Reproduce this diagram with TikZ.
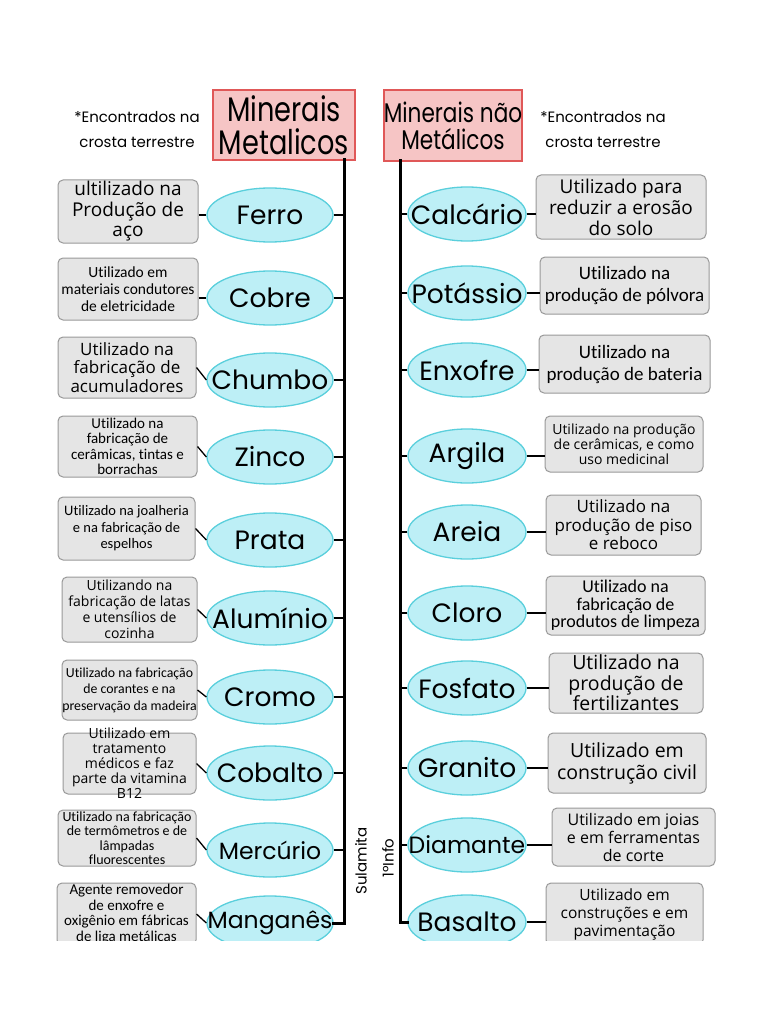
\documentclass[tikz,border=0pt]{standalone}
\usepackage{fontspec}
\setmainfont{Carlito}
\newfontfamily\ellfont{Poppins}
\newfontfamily\hdrfont[FakeStretch=0.8]{Poppins}
\newfontfamily\notefont{Poppins}
\newfontfamily\widefont{Open Sans}
\newfontfamily\narrowfont[Ligatures=NoCommon]{Carlito}
\usetikzlibrary{shapes.geometric}

\definecolor{ellfill}{HTML}{BDEFF6}
\definecolor{elldraw}{HTML}{5ACFDC}
\definecolor{boxfill}{HTML}{E5E5E5}
\definecolor{boxdraw}{HTML}{999999}
\definecolor{hdrfill}{HTML}{F6C5C5}
\definecolor{hdrdraw}{HTML}{E05858}

\newcommand\fs[2]{\fontsize{#1}{#2}\selectfont}
\newcommand\el[1]{\makebox[0pt]{#1}}
\newcommand\boxtext[4]{\parbox[c][\dimexpr#2pt-2pt\relax][c]{#1pt}{\centering#3#4\par}}

\tikzset{
  ell/.style={ellipse, draw=elldraw, fill=ellfill, line width=1.3pt,
    minimum width=126pt, minimum height=54pt, inner sep=0pt, font=\ellfont\fs{26.5}{27}},
  rell/.style={ell, minimum width=118pt},
  small/.style={font=\ellfont\fs{23.5}{24}},
  infobox/.style 2 args={rectangle, draw=boxdraw, fill=boxfill, rounded corners=5pt,
    line width=1pt, inner xsep=0pt, inner ysep=1pt, minimum width=#1pt, minimum height=#2pt},
  hdr/.style={rectangle, draw=hdrdraw, fill=hdrfill, line width=1.5pt, inner sep=0pt, align=center},
  note/.style={font=\notefont\fs{15}{25}, align=center, inner sep=0pt},
  sig/.style={rotate=90, font=\notefont\fs{15}{15}, inner sep=0pt},
  trunk/.style={line width=3pt, line cap=rect},
  twig/.style={line width=2.5pt},
  leaf/.style={line width=1.3pt}
}

\begin{document}
\begin{tikzpicture}[x=1pt,y=-1pt]
\useasboundingbox (0,0) rectangle (768,1024);
\fill[white] (0,0) rectangle (768,1024);
\begin{scope}
\clip (0,0) rectangle (768,940);

% headers
\node[hdr, minimum width=142pt, minimum height=70pt, font=\hdrfont\fs{34}{33}] (h1) at (284,125)
  {Minerais\\Metalicos};
\node[hdr, minimum width=138pt, minimum height=71pt, font=\hdrfont\fs{27}{27}] (h2) at (453,125.5)
  {Minerais não\\Metálicos};
\node[note] (n1) at (137,130) {*Encontrados na\\crosta terrestre};
\node[note] (n2) at (603,130) {*Encontrados na\\crosta terrestre};

\coordinate (ltop) at (344,160);
\coordinate (rtop) at (400,161);

% left ellipses
\node[ell] (e1) at (270,215) {\el{Ferro}};
\node[ell] (e2) at (270,298) {\el{Cobre}};
\node[ell] (e3) at (270,380) {\el{Chumbo}};
\node[ell] (e4) at (270,457) {\el{Zinco}};
\node[ell] (e5) at (270,540) {\el{Prata}};
\node[ell] (e6) at (270,618) {\el{Alumínio}};
\node[ell] (e7) at (270,697) {\el{Cromo}};
\node[ell] (e8) at (270,773) {\el{Cobalto}};
\node[ell, small] (e9) at (270,850) {\el{Mercúrio}};
\node[ell, small] (e10) at (270,923) {\el{Manganês}};

% left boxes
\node[infobox={140}{63}] (b1) at (128,211.5) {\boxtext{140}{63}{\widefont\fs{19}{20.5}}{ultilizado na\\Produção de\\aço}};
\node[infobox={140}{62}] (b2) at (128,289) {\boxtext{140}{62}{\narrowfont\fs{15.5}{17}}{Utilizado em\\materiais condutores\\de eletricidade}};
\node[infobox={138}{61}] (b3) at (127,367.5) {\boxtext{138}{61}{\widefont\fs{17}{18.5}}{Utilizado na\\fabricação de\\acumuladores}};
\node[infobox={139}{61}] (b4) at (127.5,446.5) {\boxtext{139}{61}{\narrowfont\fs{15}{15.5}}{Utilizado na\\fabricação de\\cerâmicas, tintas e\\borrachas}};
\node[infobox={137}{63}] (b5) at (126.5,528.5) {\boxtext{137}{63}{\narrowfont\fs{14.5}{16.5}}{Utilizado na joalheria\\e na fabricação de\\espelhos}};
\node[infobox={135}{65}] (b6) at (129.5,609.5) {\boxtext{135}{65}{\widefont\fs{14}{16}}{Utilizando na\\fabricação de latas\\e utensílios de\\cozinha}};
\node[infobox={135}{60}] (b7) at (129.5,690) {\boxtext{135}{60}{\narrowfont\fs{13.8}{16.5}}{Utilizado na fabricação\\de corantes e na\\preservação da madeira}};
\node[infobox={133}{61}] (b8) at (129.5,763.5) {\boxtext{133}{61}{\widefont\fs{14}{15}}{Utilizado em\\tratamento\\médicos e faz\\parte da vitamina\\B12}};
\node[infobox={138}{56}] (b9) at (127,838) {\boxtext{138}{56}{\narrowfont\fs{14}{14.5}}{Utilizado na fabricação\\de termômetros e de\\lâmpadas\\fluorescentes}};
\node[infobox={139}{62}] (b10) at (126.5,914) {\boxtext{139}{62}{\narrowfont\fs{15}{15.5}}{Agente removedor\\de enxofre e\\oxigênio em fábricas\\de liga metálicas}};

% right ellipses
\node[rell] (f1) at (467,214) {\el{Calcário}};
\node[rell] (f2) at (467,293) {\el{Potássio}};
\node[rell] (f3) at (467,370) {\el{Enxofre}};
\node[rell] (f4) at (467,456) {\el{Argila}};
\node[rell] (f5) at (467,532) {\el{Areia}};
\node[rell] (f6) at (467,613) {\el{Cloro}};
\node[rell] (f7) at (467,688) {\el{Fosfato}};
\node[rell] (f8) at (467,768) {\el{Granito}};
\node[rell, small] (f9) at (467,845) {\el{Diamante}};
\node[rell] (f10) at (467,922) {\el{Basalto}};

% right boxes
\node[infobox={170}{64}] (c1) at (621,207) {\boxtext{170}{64}{\widefont\fs{19}{21}}{Utilizado para\\reduzir a erosão\\do solo}};
\node[infobox={169}{57}] (c2) at (624.5,285.5) {\boxtext{169}{57}{\narrowfont\fs{19}{22}}{Utilizado na\\produção de pólvora}};
\node[infobox={171}{58}] (c3) at (624.5,364) {\boxtext{171}{58}{\narrowfont\fs{19}{22}}{Utilizado na\\produção de bateria}};
\node[infobox={158}{56}] (c4) at (624,444) {\boxtext{158}{56}{\widefont\fs{14}{15}}{Utilizado na produção\\de cerâmicas, e como\\uso medicinal}};
\node[infobox={155}{60}] (c5) at (623.5,525) {\boxtext{155}{60}{\widefont\fs{17}{18.5}}{Utilizado na\\produção de piso\\e reboco}};
\node[infobox={159}{59}] (c6) at (625.5,605.5) {\boxtext{159}{59}{\narrowfont\fs{18}{17.5}}{Utilizado na\\fabricação de\\produtos de limpeza}};
\node[infobox={154}{60}] (c7) at (626,683) {\boxtext{154}{60}{\widefont\fs{19.5}{20.5}}{Utilizado na\\produção de\\fertilizantes}};
\node[infobox={158}{60}] (c8) at (627,763) {\boxtext{158}{60}{\widefont\fs{19.5}{22}}{Utilizado em\\construção civil}};
\node[infobox={163}{58}] (c9) at (633.5,837) {\boxtext{163}{58}{\widefont\fs{16}{18}}{Utilizado em joias\\e em ferramentas\\de corte}};
\node[infobox={157}{62}] (c10) at (624.5,914) {\boxtext{157}{62}{\widefont\fs{15.5}{18}}{Utilizado em\\construções e em\\pavimentação}};

% trunks
\draw[trunk] (ltop) -- (ltop |- e10.east) -- (e10.east);
\draw[trunk] (rtop) -- (rtop |- f10.west) -- (f10.west);
\foreach \i in {1,...,9} {
  \draw[twig] (e\i.east) -- (e\i.east -| ltop);
  \draw[twig] (f\i.west) -- (f\i.west -| rtop);
}
% leaves
\draw[leaf] (e1.west -| b1.east) -- (e1.west);
\draw[leaf] (e2.west -| b2.east) -- (e2.west);
\foreach \i in {3,...,10} {
  \draw[leaf] (b\i.east) -- (e\i.west);
}
\foreach \i in {1,...,10} {
  \draw[leaf] (f\i.east) -- (f\i.east -| c\i.west);
}

% signature
\node[sig] (s1) at (361,861) {Sulamita};
\node[sig] (s2) at (388,858) {1ºInfo};
\end{scope}
\end{tikzpicture}
\end{document}
